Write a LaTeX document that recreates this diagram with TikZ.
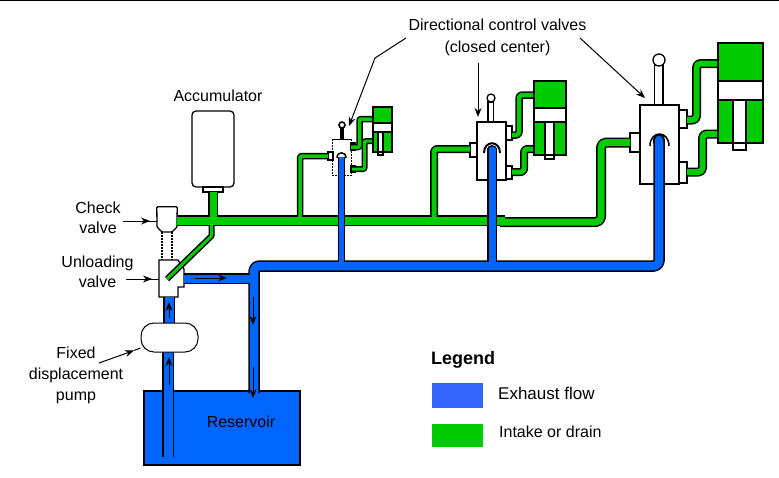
\documentclass[tikz,border=0pt]{standalone}
\usepackage{fontspec}
\setmainfont{Liberation Sans}
\usetikzlibrary{arrows.meta}
\definecolor{gr}{HTML}{00CC00}
\definecolor{bl}{HTML}{0066FF}
\definecolor{lbl}{HTML}{3366FF}
\tikzset{
  lab/.style={inner sep=0pt,align=center,font=\fontsize{16}{20}\selectfont},
  leader/.style={line width=1pt,-{Stealth[length=9pt,width=7pt]}},
  part/.style={draw=black,fill=white,line width=1.3pt,inner sep=0pt},
  dotside/.style={draw=black,line width=1.5pt,dash pattern=on 1.5pt off 1.5pt},
  cylline/.style={draw=black,line width=1.5pt},
  swatch/.style={inner sep=0pt},
  anchorbox/.style={inner sep=0pt,draw=none}
}
\newcommand{\greennet}[2]{%
  \begin{scope}[draw=#1,line join=round]
  \draw[line width=8pt+#2] (177,220.5)--(505,220.5);
  \draw[line width=7pt+#2,rounded corners=5pt] (500,222)--(601,222)--(601,142.5)--(630,142.5);
  \draw[line width=7pt+#2] (213,192)--(213,217);
  \draw[line width=3pt+#2] (211.5,222)--(211.5,236)--(167,279);
  \draw[line width=3.5pt+#2,rounded corners=2pt] (300,217)--(300,156)--(328,156);
  \draw[line width=5pt+#2,rounded corners=3pt] (434,217)--(434,149)--(470,149);
  \draw[line width=3.5pt+#2,rounded corners=1pt] (351,147)--(359.5,147)--(359.5,119)--(373,119);
  \draw[line width=3pt+#2,rounded corners=1pt] (352,169)--(364.5,169)--(364.5,141)--(373,141);
  \draw[line width=4.5pt+#2,rounded corners=3pt] (512,135)--(519,135)--(519,95)--(534,95);
  \draw[line width=5pt+#2,rounded corners=3pt] (512,172)--(524,172)--(524,149)--(534,149);
  \draw[line width=6pt+#2,rounded corners=4pt] (687,120)--(696.5,120)--(696.5,63.5)--(718,63.5);
  \draw[line width=6pt+#2,rounded corners=4pt] (687,172)--(702.5,172)--(702.5,134)--(718,134);
  \end{scope}}
\newcommand{\bluenet}[2]{%
  \begin{scope}[draw=#1,line join=round]
  \draw[line width=8.5pt+#2,rounded corners=5pt] (254,393)--(254,266)--(659,266)--(659,140);
  \draw[line width=8.5pt+#2,line cap=round] (659,140)--(659,141);
  \draw[line width=8pt+#2] (184,278.5)--(254,278.5);
  \draw[line width=4.5pt+#2] (341.5,157)--(341.5,264);
  \draw[line width=7pt+#2] (492,148)--(492,264);
  \draw[line width=7pt+#2,line cap=round] (492,150)--(492,151);
  \draw[line width=9pt+#2] (169,297)--(169,323);
  \draw[line width=9pt+#2] (168,352)--(168,457);
  \end{scope}}
\begin{document}
\begin{tikzpicture}[x=1pt,y=-1pt]
\useasboundingbox (0,0) rectangle (779,477);
\fill[white] (0,0) rectangle (779,477);
\fill[black] (0,0) rectangle (779,1.3);

% reservoir
\node[draw=black,fill=bl,line width=1.5pt,inner sep=0pt,minimum width=156pt,minimum height=74pt] (res) at (222,428) {};

% accumulator
\node[part,rounded corners=4pt,minimum width=42pt,minimum height=76pt] (acc) at (213,149) {};
\node[part,minimum width=20pt,minimum height=5pt] (accneck) at (213,189.5) {};

% check valve with neck
\fill[white] (162,232) rectangle (172,260);
\draw[dotside] (162,232)--(162,260);
\draw[dotside] (172,232)--(172,260);
\node[anchorbox,minimum width=20pt,minimum height=25pt] (check) at (167,219.5) {};
\draw[part,rounded corners=1pt] (check.north west)--(check.north east)--(177,227)--(172,232)--(162,232)--(157,227)--cycle;

% unloading valve
\node[anchorbox,minimum width=25pt,minimum height=37pt] (unload) at (171.5,278.5) {};
\draw[part] (159,260)--(178,260)--(184,269)--(184,287)--(178,287)--(178,297)--(159,297)--cycle;

% valve 1
\node[part,draw=none,minimum width=18pt,minimum height=35pt] (vone) at (342,157.5) {};
\draw[dotside] (vone.north west)--(vone.south west);
\draw[dotside] (vone.north east)--(vone.south east);
\draw[line width=1.5pt] (vone.north west)--(vone.north east);
\draw[dotside] (vone.south west)--(vone.south east);
\node[part,minimum width=5pt,minimum height=8pt] (vonein) at (330.5,156) {};
\node[part,minimum width=4pt,minimum height=7pt] (vonea) at (353,146.5) {};
\node[part,minimum width=4pt,minimum height=7pt] (voneb) at (353,169) {};
\fill[black] (340,128) rectangle (344,140);
\node[part,circle,line width=1.6pt,minimum size=6pt] (vonek) at (342,125) {};

% valve 2
\node[part,minimum width=29pt,minimum height=58pt] (vtwo) at (491.5,151) {};
\node[part,minimum width=7pt,minimum height=14pt] (vtwoin) at (473.5,150) {};
\node[part,minimum width=6pt,minimum height=14pt] (vtwoa) at (509,133) {};
\node[part,minimum width=6pt,minimum height=13pt] (vtwob) at (509,172.5) {};
\draw[part] (488,122) rectangle (493.5,102);
\node[part,circle,minimum size=8pt] (vtwok) at (491,98) {};

% valve 3
\node[part,minimum width=39pt,minimum height=79pt] (vthree) at (659.5,144.5) {};
\node[part,minimum width=10pt,minimum height=19pt] (vthreein) at (635,142.5) {};
\node[part,minimum width=8pt,minimum height=18pt] (vthreea) at (683,119) {};
\node[part,minimum width=8pt,minimum height=21pt] (vthreeb) at (683,172.5) {};
\draw[part] (654.5,105) rectangle (663,65);
\node[part,circle,minimum size=12pt] (vthreek) at (659,60) {};

% pipes
\greennet{black}{3pt}
\greennet{gr}{0pt}
\bluenet{black}{3pt}
\bluenet{bl}{0pt}

% caps round pipe tops
\draw[line width=1.5pt] (337,158) .. controls (337,151) and (346,151) .. (346,158);
\draw[line width=2pt] (484,153) .. controls (484,140) and (500,140) .. (500,153);
\draw[line width=1.5pt] (650,146) .. controls (650,130) and (669,130) .. (669,146);

% cylinder 1
\fill[gr] (373,107) rectangle (392,123);
\fill[gr] (373,132) rectangle (392,152);
\draw[cylline,fill=white] (378,132) rectangle (383,155);
\draw[cylline] (373,107) rectangle (392,152);
\draw[cylline] (373,123)--(392,123);
\draw[cylline] (373,132)--(392,132);
% cylinder 2
\fill[gr] (534,81) rectangle (566,108);
\fill[gr] (534,122) rectangle (566,155);
\draw[cylline,fill=white] (545,122) rectangle (554,159);
\draw[cylline] (534,81) rectangle (566,155);
\draw[cylline] (534,108)--(566,108);
\draw[cylline] (534,122)--(566,122);
% cylinder 3
\fill[gr] (718,43) rectangle (763,81);
\fill[gr] (718,100) rectangle (763,143);
\draw[cylline,fill=white] (733,100) rectangle (746,150);
\draw[cylline] (718,43) rectangle (763,143);
\draw[cylline] (718,81)--(763,81);
\draw[cylline] (718,100)--(763,100);

% pump
\node[part,rounded corners=13pt,line width=1pt,minimum width=57pt,minimum height=29pt] (pump) at (169.5,337.5) {};

% flow arrows
\coordinate (fa) at (169,318); \coordinate (fb) at (169,302);
\coordinate (fc) at (169,385); \coordinate (fd) at (169,357);
\coordinate (fe) at (253,297); \coordinate (ff) at (253,325);
\coordinate (fg) at (253,367); \coordinate (fh) at (253,398);
\coordinate (fi) at (195,278); \coordinate (fj) at (227,278);
\draw[leader] (fa)--(fb);
\draw[leader] (fc)--(fd);
\draw[leader] (fe)--(ff);
\draw[leader] (fg)--(fh);
\draw[leader] (fi)--(fj);

% text
\node[lab] (tacc) at (218,96) {Accumulator};
\node[lab] (tdir) at (497.5,37) {Directional control valves\\[2pt](closed center)};
\node[lab] (tcheck) at (98,218) {Check\\valve};
\node[lab] (tunl) at (97.5,272) {Unloading\\valve};
\node[lab] (tpump) at (76,375) {Fixed\\[1pt]displacement\\[1pt]pump};
\node[lab] (tres) at (241,422) {Reservoir};

% leaders
\coordinate (lcheck) at (123,221);
\coordinate (lunl) at (126,279);
\coordinate (lpump) at (99,363);
\coordinate (lpumpto) at (134,350.5);
\coordinate (ldira) at (406,38);
\coordinate (ldirb) at (375,58);
\coordinate (ldirc) at (349,126);
\coordinate (ldird) at (478,63);
\coordinate (ldire) at (478,117);
\coordinate (ldirf) at (580,38);
\coordinate (ldirg) at (645,98);
\draw[line width=1pt] (lcheck)--(lcheck -| check.west);
\draw[leader] (lcheck)--(150,221);
\draw[line width=1pt] (lunl)--(lunl -| unload.west);
\draw[leader] (lunl)--(152,279);
\draw[leader] (lpump)--(lpumpto);
\draw[line width=1pt] (lpumpto)--(pump.west |- 348,348);
\draw[leader] (ldira)--(ldirb)--(ldirc);
\draw[leader] (ldird)--(ldire);
\draw[leader] (ldirf)--(ldirg);

% legend
\node[inner sep=0pt,anchor=west,font=\fontsize{18}{20}\selectfont\bfseries] (tleg) at (431,360) {Legend};
\node[swatch,fill=lbl,minimum width=51pt,minimum height=25pt] (sblue) at (457.5,395.5) {};
\node[swatch,fill=gr,minimum width=51pt,minimum height=23pt] (sgreen) at (457.5,435.5) {};
\node[inner sep=0pt,anchor=west,font=\fontsize{17}{20}\selectfont] (tex) at (498,393) {Exhaust flow};
\node[inner sep=0pt,anchor=west,font=\fontsize{16}{20}\selectfont] (tin) at (499,432) {Intake or drain};
\end{tikzpicture}
\end{document}
